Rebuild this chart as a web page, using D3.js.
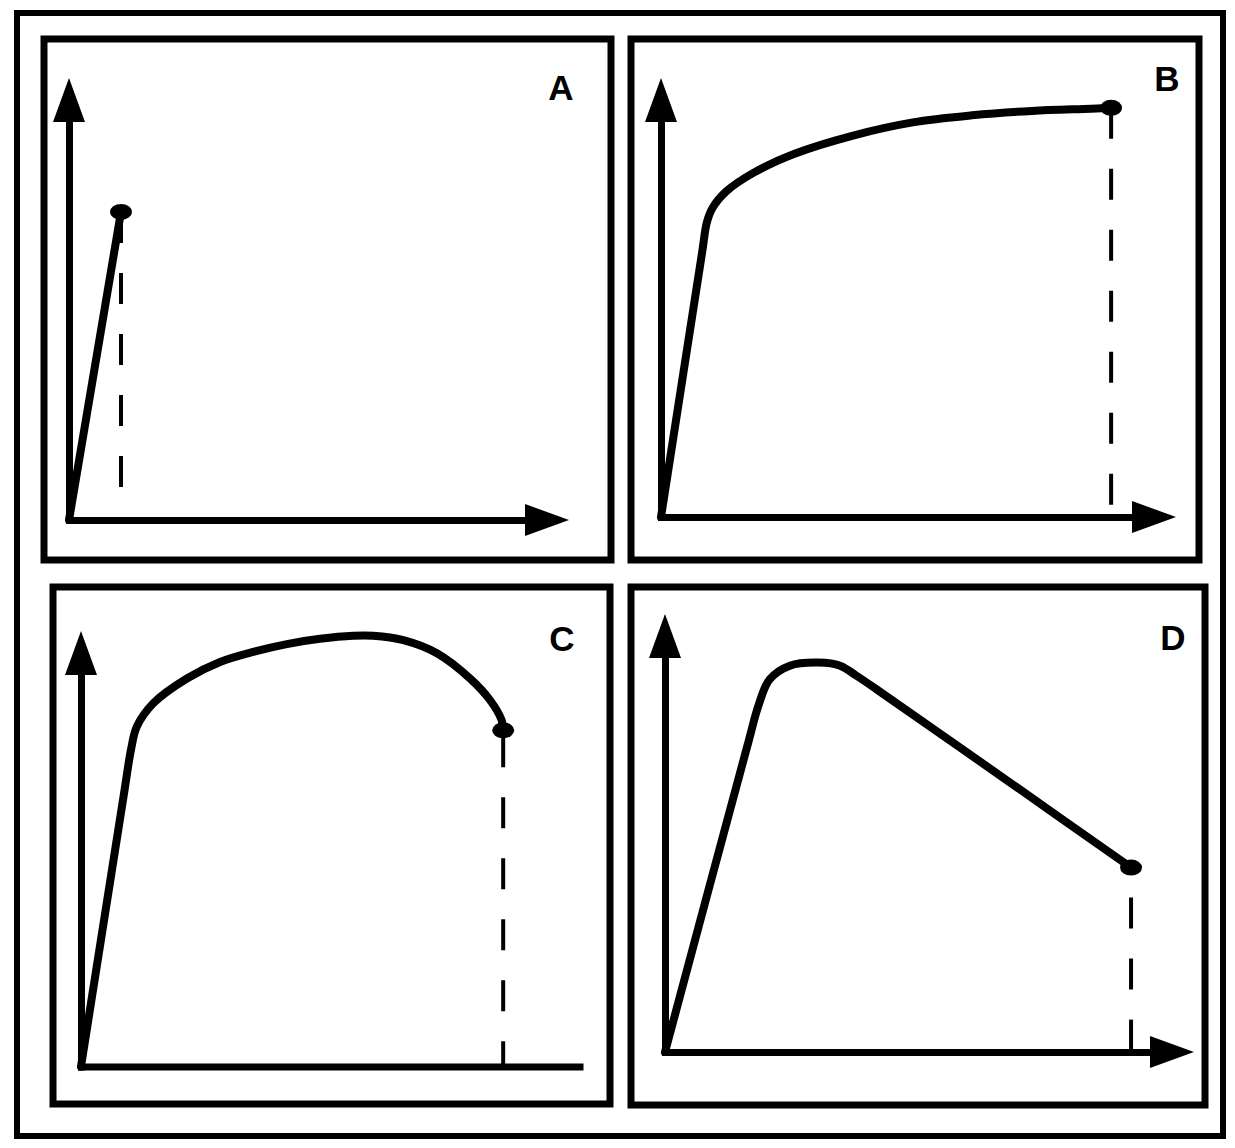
<!DOCTYPE html>
<html>
<head>
<meta charset="utf-8">
<script src="https://cdn.jsdelivr.net/npm/d3@7"></script>
<style>
  body { margin: 0; background: #fff; }
</style>
</head>
<body>
<div class="chart-container"></div>
<script>
// panel labels
var labels = ['A', 'B', 'C', 'D'];

// stress-strain curves (percent of axis length)
var strainA = [0, 10.4];
var stressA = [0, 69.7];

var strainB = [0, 8.0, 8.9, 10.0, 12.7, 18.1, 25.8, 37.3, 48.9, 60.4, 72.0, 83.5, 87.4];
var stressB = [0, 60.4, 67.1, 70.4, 74.2, 78.5, 82.7, 86.9, 89.9, 91.5, 92.5, 93.0, 93.2];

var strainC = [0, 8.5, 10.0, 11.1, 14.4, 21.1, 27.7, 34.3, 41.0, 47.6, 54.2, 58.2, 64.2, 70.9, 77.5, 81.5, 83.8, 84.1];
var stressC = [0, 62.2, 73.0, 78.0, 83.4, 89.1, 92.9, 95.2, 97.0, 98.2, 98.9, 98.9, 97.9, 94.9, 89.1, 84.1, 79.5, 77.2];

var strainD = [0, 15.5, 17.8, 19.8, 23.6, 29.0, 33.1, 36.2, 40.0, 65.6, 88.1];
var stressD = [0, 69.6, 79.6, 85.1, 88.2, 88.9, 88.2, 85.9, 82.8, 61.2, 42.1];

var strains = [strainA, strainB, strainC, strainD];
var stresses = [stressA, stressB, stressC, stressD];

var width = 1235;
var height = 1148;

// where each panel sits on the page
var layout = [
  {box: [44, 39, 567, 521], ox: 69, oy: 520, tipX: 569, tipY: 78, arrowX: true, lx: 561, ly: 100, dashOff: 0},
  {box: [631, 39, 568, 521], ox: 661, oy: 517, tipX: 1176, tipY: 78, arrowX: true, lx: 1167, ly: 91, dashOff: 0},
  {box: [53, 587, 557, 517], ox: 81, oy: 1066.5, tipX: 583, tipY: 631, arrowX: false, lx: 562, ly: 651, dashOff: -6},
  {box: [631, 587, 574, 518], ox: 665, oy: 1052, tipX: 1194, tipY: 614, arrowX: true, lx: 1173, ly: 650, dashOff: 31}
];

var headLen = 44;
var headHalf = 16;

var svg = d3.select('.chart-container')
  .append('svg')
  .attr('width', width)
  .attr('height', height);

svg.append('rect')
  .attr('width', width)
  .attr('height', height)
  .attr('fill', 'white');

// outer frame
svg.append('rect')
  .attr('x', 17)
  .attr('y', 13)
  .attr('width', 1206)
  .attr('height', 1123)
  .attr('fill', 'none')
  .attr('stroke', 'black')
  .attr('stroke-width', 6);

labels.forEach(function (label, i) {
  var p = layout[i];
  var g = svg.append('g');

  // panel box
  g.append('rect')
    .attr('x', p.box[0])
    .attr('y', p.box[1])
    .attr('width', p.box[2])
    .attr('height', p.box[3])
    .attr('fill', 'none')
    .attr('stroke', 'black')
    .attr('stroke-width', 7);

  var x = d3.scaleLinear().domain([0, 100]).range([p.ox, p.tipX]);
  var y = d3.scaleLinear().domain([0, 100]).range([p.oy, p.tipY]);

  // axis lines (no ticks), stopped short under the arrow heads
  var xAxisScale = x.copy().range([p.ox - 3.5, x(100) - (p.arrowX ? 30 : 0)]);
  var yAxisScale = y.copy().range([p.oy + 3.5, y(100) + 30]);

  var xg = g.append('g')
    .attr('transform', 'translate(0,' + p.oy + ')')
    .call(d3.axisBottom(xAxisScale).tickValues([]).tickSizeOuter(0));
  xg.select('.domain').attr('stroke', 'black').attr('stroke-width', 7);

  var yg = g.append('g')
    .attr('transform', 'translate(' + p.ox + ',0)')
    .call(d3.axisLeft(yAxisScale).tickValues([]).tickSizeOuter(0));
  yg.select('.domain').attr('stroke', 'black').attr('stroke-width', 7);

  // arrow heads
  var yt = y(100);
  g.append('path')
    .attr('d', 'M' + p.ox + ',' + yt + 'L' + (p.ox - headHalf) + ',' + (yt + headLen) + 'L' + (p.ox + headHalf) + ',' + (yt + headLen) + 'Z')
    .attr('fill', 'black');
  if (p.arrowX) {
    var xt = x(100);
    g.append('path')
      .attr('d', 'M' + xt + ',' + p.oy + 'L' + (xt - headLen) + ',' + (p.oy - headHalf) + 'L' + (xt - headLen) + ',' + (p.oy + headHalf) + 'Z')
      .attr('fill', 'black');
  }

  var pts = strains[i].map(function (s, j) { return [s, stresses[i][j]]; });
  var end = pts[pts.length - 1];

  // dashed drop line from the fracture point
  g.append('line')
    .attr('x1', x(end[0]))
    .attr('x2', x(end[0]))
    .attr('y1', y(end[1]))
    .attr('y2', p.oy)
    .attr('stroke', 'black')
    .attr('stroke-width', 4)
    .attr('stroke-dasharray', '31,30')
    .attr('stroke-dashoffset', p.dashOff);

  var line = d3.line()
    .x(function (d) { return x(d[0]); })
    .y(function (d) { return y(d[1]); })
    .curve(d3.curveCatmullRom.alpha(0.5));

  g.append('path')
    .datum(pts)
    .attr('d', line)
    .attr('fill', 'none')
    .attr('stroke', 'black')
    .attr('stroke-width', 8)
    .attr('stroke-linecap', 'round')
    .attr('stroke-linejoin', 'round');

  // fracture point
  g.append('ellipse')
    .attr('cx', x(end[0]))
    .attr('cy', y(end[1]))
    .attr('rx', 11)
    .attr('ry', 8)
    .attr('fill', 'black');

  g.append('text')
    .attr('x', p.lx)
    .attr('y', p.ly)
    .attr('text-anchor', 'middle')
    .attr('font-family', '"Liberation Sans", Arial, sans-serif')
    .attr('font-weight', 'bold')
    .attr('font-size', 35)
    .text(label);
});
</script>
</body>
</html>
